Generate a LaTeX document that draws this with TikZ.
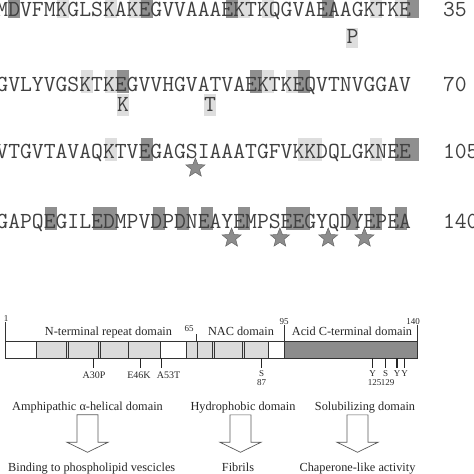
\documentclass[tikz,border=0pt]{standalone}
\usepackage{fontspec}
\setmainfont{Liberation Serif}
\usetikzlibrary{shapes.geometric,calc,positioning}

\definecolor{hllight}{gray}{0.87}
\definecolor{hldark}{gray}{0.56}
\definecolor{seqgray}{gray}{0.25}
\definecolor{repgray}{gray}{0.86}
\definecolor{acidgray}{gray}{0.55}
\definecolor{stargray}{gray}{0.55}

\newcommand\cw{12.07}
\newcommand\seqx{-3.77}
% shaded residue: top y, residue column, colour
\newcommand\resbox[3]{\fill[#3] ({\seqx+(#2-1)*\cw},#1) rectangle ++(\cw,23);}
% open block arrow from one label to the one below it
\newcommand\fatdown[3]{%
  \draw[hollow] let \p1=($(#1.south)!#3!(#2.north)$), \p2=(#1.south), \p3=(#2.north) in
    (\x1-10.5pt,\y2-2pt) -- (\x1+10.5pt,\y2-2pt) -- (\x1+10.5pt,\y3+20pt) -- (\x1+20.5pt,\y3+20pt)
    -- (\x1,\y3+10pt) -- (\x1-20.5pt,\y3+20pt) -- (\x1-10.5pt,\y3+20pt) -- cycle;}

\begin{document}
\begin{tikzpicture}[x=1pt, y=-1pt,
  seqrow/.style={anchor=base west, inner sep=0, text=seqgray, font=\ttfamily\fontsize{23}{26}\selectfont},
  resstar/.style={star, star points=5, star point ratio=2.3, minimum size=20pt, inner sep=0, fill=stargray, draw=black!60, line width=0.5pt},
  lbl/.style={anchor=base, inner sep=0, text=black!85, font=\fontsize{12.3}{14}\selectfont},
  num/.style={anchor=base, inner sep=0, text=black!85, font=\fontsize{9}{10}\selectfont},
  mut/.style={anchor=base, inner sep=0, text=black!85, font=\fontsize{10}{11}\selectfont},
  seg/.style={draw=black!80, line width=0.6pt},
  tick/.style={draw=black!85, line width=1.1pt},
  hollow/.style={draw=black!65, fill=white, line width=0.7pt}
]
\useasboundingbox (0,0) rectangle (474,474);
\clip (0,0) rectangle (474,474);

% shaded residues
\foreach \k in {6,10,12,21,23,32,34} {\resbox{-5}{\k}{hllight}}
\foreach \k in {2,13,20,28,35} {\resbox{-5}{\k}{hldark}}
\foreach \k in {8,10,23,25} {\resbox{70}{\k}{hllight}}
\foreach \k in {11,22,26} {\resbox{70}{\k}{hldark}}
\foreach \k in {10,26,27,32} {\resbox{137.5}{\k}{hllight}}
\foreach \k in {13,34,35} {\resbox{137.5}{\k}{hldark}}
\foreach \k in {5,9,10,14,16,18,21,25,26,30,32,34} {\resbox{207}{\k}{hldark}}
\fill[hllight] (346.3,27.5) rectangle ++(\cw,20);
\fill[hllight] (116.9,93.5) rectangle ++(\cw,22);
\fill[hllight] (204,93.5) rectangle ++(\cw,22);

% sequence
\node[seqrow] (row1) at (\seqx,16.5) {MDVFMKGLSKAKEGVVAAAEKTKQGVAEAAGKTKE};
\node[seqrow] (row2) at (\seqx,91.5) {GVLYVGSKTKEGVVHGVATVAEKTKEQVTNVGGAV};
\node[seqrow] (row3) at (\seqx,158.5) {VTGVTAVAQKTVEGAGSIAAATGFVKKDQLGKNEE};
\node[seqrow] (row4) at (\seqx,228) {GAPQEGILEDMPVDPDNEAYEMPSEEGYQDYEPEA};
\node[seqrow] (num35) at (442.8,16.5) {35};
\node[seqrow] (num70) at (442.8,91.5) {70};
\node[seqrow] (num105) at (442.8,158.5) {105};
\node[seqrow] (num140) at (442.8,228) {140};
\node[seqrow] (subP) at (346.3,43) {P};
\node[seqrow] (subK) at (116.9,111) {K};
\node[seqrow] (subT) at (204,111) {T};

% phosphorylation sites
\node[resstar] (st87) at (195.4,168) {};
\node[resstar] (st125) at (231.6,238) {};
\node[resstar] (st129) at (279.9,238) {};
\node[resstar] (st133) at (328.2,238) {};
\node[resstar] (st136) at (364.4,238) {};

% domain bar
\draw[seg, fill=white] (5,341) rectangle (417,358);
\foreach \a/\b in {36/66, 66/98, 98/128, 128/160, 186/197, 197/212, 212/242, 242/268}
  \filldraw[seg, fill=repgray] (\a,341) rectangle (\b,358);
\foreach \a in {67.8, 99.8, 213.8, 243.8} \draw[seg] (\a,341) -- (\a,358);
\filldraw[seg, fill=acidgray] (284.6,341) rectangle (417,358);
\draw[seg] (5,322) -- (5,341);
\draw[seg] (196.5,334) -- (196.5,341);
\draw[seg] (284.6,325) -- (284.6,341);
\draw[seg] (417,325) -- (417,341);

\node[num] (pos1) at (6,321) {1};
\node[num] (pos65) at (189,331) {65};
\node[num] (pos95) at (284,324) {95};
\node[num] (pos140) at (413,324) {140};

\node[lbl] (nterm) at (108.5,335) {N-terminal repeat domain};
\node[lbl] (nac) at (241,335) {NAC domain};
\node[lbl] (acid) at (352,335) {Acid C-terminal domain};

% mutations and sites
\foreach \x/\lx/\lab in {93.3/94/A30P, 140.4/139/E46K, 161.4/168.5/A53T} {
  \node[mut] (mut\lab) at (\lx,378.5) {\lab};
  \draw[tick] (\x,358) -- (\x,368);
}
\node[num] (aa87) at (261.5,376) {S};
\node[num] (no87) at (261.5,385) {87};
\node[num] (aa125) at (372.5,376) {Y};
\node[num] (no125) at (374.5,385) {125};
\node[num] (aa129) at (385.5,376) {S};
\node[num] (no129) at (387.5,385) {129};
\node[num] (aa133) at (397,376) {Y};
\node[num] (aa136) at (404.5,376) {Y};
\foreach \s in {87,125,129,133,136}
  \draw[tick] (aa\s.north |- 0,358) -- (aa\s.north |- 0,368);

% functions
\node[lbl] (amph) at (87.5,410) {Amphipathic α-helical domain};
\node[lbl] (hydro) at (243,410) {Hydrophobic domain};
\node[lbl] (solub) at (365,410) {Solubilizing domain};
\node[lbl] (bind) at (91.7,471) {Binding to phospholipid vescicles};
\node[lbl] (fibr) at (238,471) {Fibrils};
\node[lbl] (chap) at (357.5,471) {Chaperone-like activity};
\fatdown{amph}{bind}{0}
\fatdown{hydro}{fibr}{0.5}
\fatdown{solub}{chap}{1}
\end{tikzpicture}
\end{document}
